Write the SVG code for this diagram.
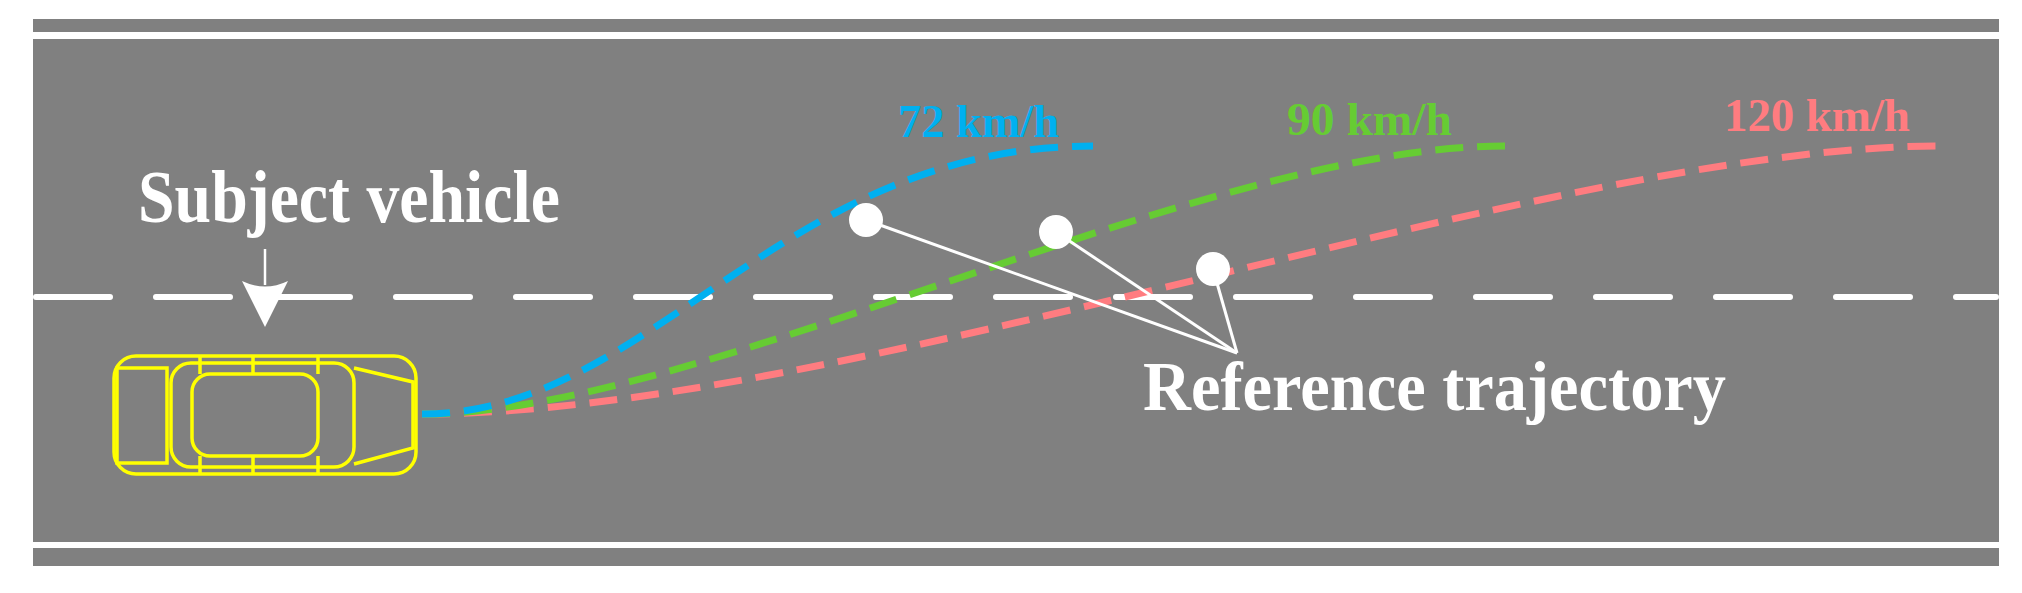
<svg xmlns="http://www.w3.org/2000/svg" width="2022" height="593" viewBox="0 0 2022 593">
<style>
.t{font-family:"Liberation Serif","Times New Roman",serif;font-weight:bold}
.traj{fill:none;stroke-width:7;stroke-dasharray:28 14}
.car{fill:none;stroke:#FFFF00;stroke-width:3.5}
.lead{stroke:#fff;stroke-width:3;fill:none}
</style>
<rect width="2022" height="593" fill="#fff"/>
<g id="road">
<rect x="33" y="19" width="1966" height="13" fill="#808080"/>
<rect x="33" y="39" width="1966" height="503" fill="#808080"/>
<rect x="33" y="548" width="1966" height="18" fill="#808080"/>
<line x1="36" y1="297" x2="1996" y2="297" stroke="#fff" stroke-width="6" stroke-linecap="round" stroke-dasharray="74 46"/>
</g>
<g id="subject-label">
<text class="t" x="138" y="222" font-size="74" fill="#fff" textLength="422" lengthAdjust="spacingAndGlyphs">Subject vehicle</text>
<line x1="265" y1="249" x2="265" y2="285" stroke="#fff" stroke-width="2.5"/>
<path d="M242,281 Q265,292 288,281 L265,327 Z" fill="#fff"/>
</g>
<g id="car">
<rect class="car" x="114" y="356" width="302" height="118" rx="22"/>
<rect class="car" x="117" y="368" width="50" height="95"/>
<rect class="car" x="171" y="363" width="183" height="104" rx="20"/>
<rect class="car" x="192" y="374" width="126" height="82" rx="18"/>
<path class="car" d="M354,368 L413,382 L413,448 L354,464"/>
<path class="car" d="M200,356 V374 M253,356 V374 M318,356 V374 M200,456 V474 M253,456 V474 M318,456 V474"/>
</g>
<g id="connectors">
<path class="traj" stroke="#FF7C80" d="M422,414 C850,414 1550,146 1941,146"/>
<path class="traj" stroke="#66CC33" d="M422,414 C700,414 1200,146 1505,146"/>
<path class="traj" stroke="#00B0F0" d="M422,414 C650,414 780,146 1093,146"/>
<line class="lead" x1="866" y1="220" x2="1237" y2="353"/>
<line class="lead" x1="1056" y1="232" x2="1237" y2="353"/>
<line class="lead" x1="1213" y1="269" x2="1237" y2="353"/>
</g>
<g id="dots" fill="#fff">
<circle cx="866" cy="220" r="17"/>
<circle cx="1056" cy="232" r="17"/>
<circle cx="1213" cy="269" r="17"/>
</g>
<g id="labels">
<text class="t" x="898" y="137" font-size="47" fill="#00B0F0" textLength="161" lengthAdjust="spacingAndGlyphs">72 km/h</text>
<text class="t" x="1287" y="135" font-size="47" fill="#66CC33" textLength="165" lengthAdjust="spacingAndGlyphs">90 km/h</text>
<text class="t" x="1724" y="131" font-size="47" fill="#FF7C80" textLength="186" lengthAdjust="spacing">120 km/h</text>
<text class="t" x="1143" y="410" font-size="70" fill="#fff" textLength="583" lengthAdjust="spacingAndGlyphs">Reference trajectory</text>
</g>
</svg>
